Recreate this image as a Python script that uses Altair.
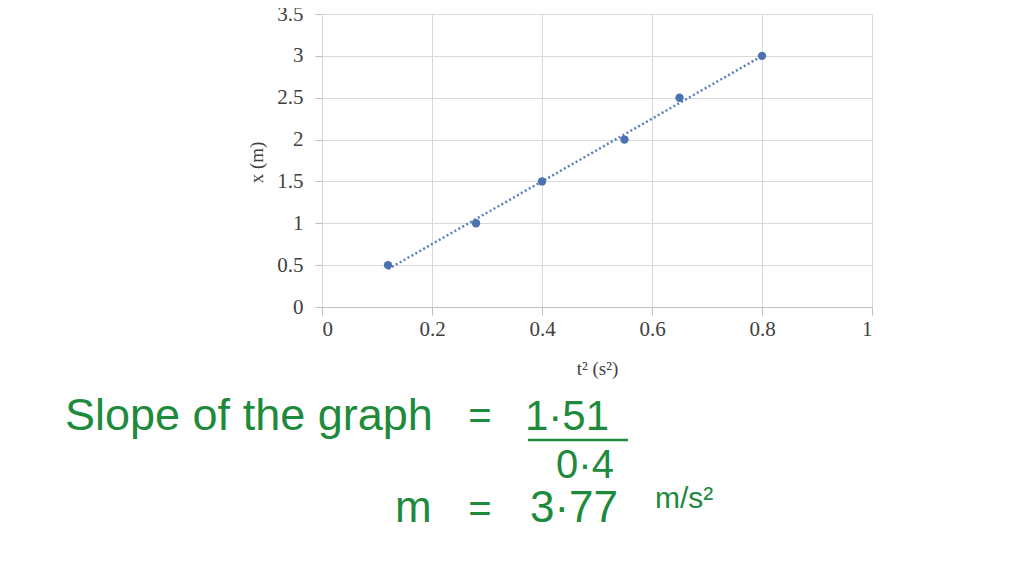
import altair as alt
import pandas as pd

# data
t_squared = [0.12, 0.28, 0.40, 0.55, 0.65, 0.80]
distance = [0.5, 1.0, 1.5, 2.0, 2.5, 3.0]
x_ticks = [0, 0.2, 0.4, 0.6, 0.8, 1.0]
y_ticks = [0, 0.5, 1.0, 1.5, 2.0, 2.5, 3.0, 3.5]

df = pd.DataFrame({"t2": t_squared, "x": distance})

W, H = 550, 293
BLUE = "#4a72b0"
GREEN = "#1e8a3c"
SERIF = "Liberation Serif"
HAND = "Liberation Sans"
LABEL = "#404040"

xenc = alt.X(
    "t2:Q",
    scale=alt.Scale(domain=[0, 1], nice=False, zero=False),
    axis=alt.Axis(
        values=x_ticks, format="~g", title="t² (s²)",
        labelFont=SERIF, labelFontSize=21, labelColor=LABEL, labelPadding=3,
        titleFont=SERIF, titleFontSize=19, titleFontWeight="normal", titleColor=LABEL,
        titleY=61, titleBaseline="middle",
        tickSize=8, tickColor="#bfbfbf", domainColor="#bfbfbf",
        gridColor="#d9d9d9",
    ),
)
yenc = alt.Y(
    "x:Q",
    scale=alt.Scale(domain=[0, 3.5], nice=False),
    axis=alt.Axis(
        values=y_ticks, format="~g", title="x (m)",
        labelFont=SERIF, labelFontSize=21, labelColor=LABEL, labelPadding=12,
        titleFont=SERIF, titleFontSize=19, titleFontWeight="normal", titleColor=LABEL,
        titleX=-66, titleY=148, titleBaseline="middle",
        tickSize=7, tickColor="#bfbfbf", domain=False,
        gridColor="#d9d9d9",
    ),
)

points = alt.Chart(df).mark_circle(size=70, color=BLUE, opacity=1).encode(x=xenc, y=yenc)

trend = (
    alt.Chart(df)
    .transform_regression("t2", "x")
    .mark_line(color="#5b80bd", strokeDash=[2, 2.5], strokeWidth=2.5)
    .encode(x="t2:Q", y="x:Q")
)

# handwritten-style annotation below the chart
ann = pd.DataFrame({"k": [0]})
base = alt.Chart(ann)


def txt(s, x, y, size, align="left", baseline="alphabetic"):
    return base.mark_text(
        text=s, font=HAND, fontSize=size, color=GREEN, align=align, baseline=baseline
    ).encode(x=alt.value(x), y=alt.value(y))


annotations = [
    txt("Slope of the graph", -257, 416, 45),
    txt("=", 158, 403, 40, align="center", baseline="middle"),
    txt("1·51", 203, 416, 42),
    txt("0·4", 263, 464, 40, align="center"),
    txt("m", 73, 508, 44),
    txt("=", 158, 496, 40, align="center", baseline="middle"),
    txt("3·77", 208, 508, 44),
    txt("m/s²", 333, 494, 30),
]
frac_bar = base.mark_rule(color=GREEN, strokeWidth=2.5).encode(
    x=alt.value(206), x2=alt.value(306), y=alt.value(426)
)

chart = (
    alt.layer(trend, points, frac_bar, *annotations)
    .properties(
        width=W, height=H,
        autosize=alt.AutoSizeParams(type="none"),
        padding={"left": 314, "top": 6, "right": 140, "bottom": 255},
        background="white",
    )
    .configure_view(stroke=None)
)

chart.save("out.html", embed_options={"renderer": "svg", "actions": False})
